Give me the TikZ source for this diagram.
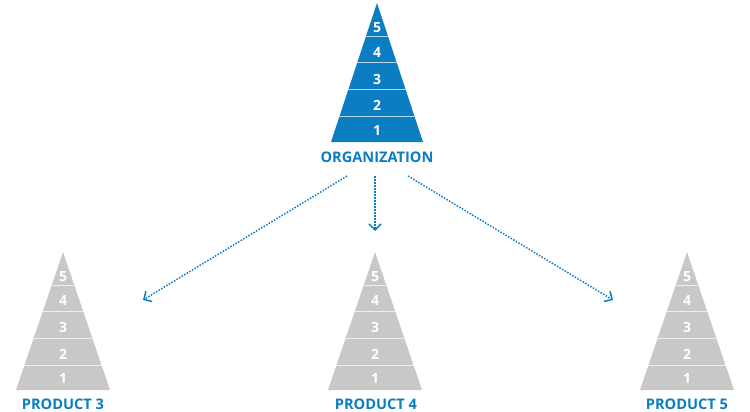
\documentclass[tikz,border=0pt]{standalone}
\usepackage{fontspec}
\setmainfont{Open Sans}
\usepackage{xcolor}
\usepackage{tikz}
\usetikzlibrary{arrows.meta}

\definecolor{orgblue}{RGB}{10,125,195}
\definecolor{prodgray}{RGB}{200,200,200}

\begin{document}
\begin{tikzpicture}[
    x=1pt, y=-1pt,
    level/.style={font=\bfseries\fontsize{14}{14}\selectfont, text=white, inner sep=0pt},
    title/.style={font=\bfseries\fontsize{14.6}{14.6}\selectfont, text=orgblue, inner sep=0pt},
    link/.style={orgblue, line width=1.5pt, dash pattern=on 1.5pt off 1.5pt,
                 -{Straight Barb[length=6pt, width=12pt]}}
]

\useasboundingbox (0,0) rectangle (750,412);

% Pyramids: name / centre x / apex y / half base / height / colour
\foreach \name/\cx/\ty/\hw/\h/\col in {org/377/3/46/139/orgblue,
                                       p3/63/252/47/138/prodgray,
                                       p4/375/252/47/138/prodgray,
                                       p5/687/252/47/138/prodgray}{
    \fill[\col] (\cx,\ty) -- (\cx+\hw,\ty+\h) -- (\cx-\hw,\ty+\h) -- cycle;
    % separators
    \foreach \f in {0.24,0.43,0.625,0.82}
        \draw[white!70!\col, line width=1pt] (\cx-\f*\hw,\ty+\f*\h) -- (\cx+\f*\hw,\ty+\f*\h);
    % levels
    \foreach \n/\f in {5/0.18,4/0.355,3/0.55,2/0.74,1/0.92}
        \node[level] (\name-\n) at (\cx,\ty+\f*\h) {\n};
}

% Labels
\node[title] (org) at (377,157) {ORGANIZATION};
\node[title] (p3) at (63,404) {PRODUCT 3};
\node[title] (p4) at (376,404) {PRODUCT 4};
\node[title] (p5) at (687,404) {PRODUCT 5};

% Arrow ends
\coordinate (org-l) at (347,176);
\coordinate (org-m) at (375,176);
\coordinate (org-r) at (408,176);
\coordinate (p3-in) at (143,300);
\coordinate (p4-in) at (375,231);
\coordinate (p5-in) at (613,300);

% Arrows
\draw[link] (org-l) -- (p3-in);
\draw[link] (org-m) -- (p4-in);
\draw[link] (org-r) -- (p5-in);

\end{tikzpicture}
\end{document}
